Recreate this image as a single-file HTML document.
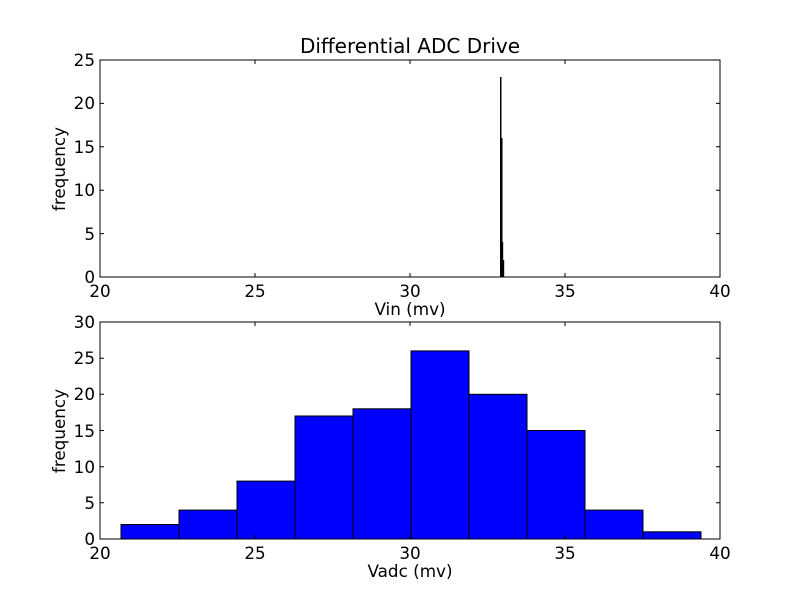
<!DOCTYPE html><html><head><style>body{margin:0;background:#fff}</style></head><body>
<svg width="800" height="600" xmlns="http://www.w3.org/2000/svg" font-family="DejaVu Sans, sans-serif">
<rect width="800" height="600" fill="#fff"/>
<text x="410" y="53" font-size="20" text-anchor="middle">Differential ADC Drive</text>
<g fill="#000">
<rect x="500" y="77" width="1.5" height="200"/>
<rect x="501" y="138" width="1.5" height="139"/>
<rect x="502" y="242" width="1.2" height="35"/>
<rect x="503" y="260" width="1.2" height="17"/>
</g>
<rect x="100" y="60" width="620" height="217" fill="none" stroke="#000"/>
<g stroke="#000">
<path d="M255 277v-4M410 277v-4M565 277v-4M255 60v4M410 60v4M565 60v4"/>
<path d="M100 233.6h4M100 190.2h4M100 146.8h4M100 103.4h4M720 233.6h-4M720 190.2h-4M720 146.8h-4M720 103.4h-4"/>
</g>
<g font-size="16.8" text-anchor="end">
<text x="95" y="283">0</text><text x="95" y="240">5</text><text x="95" y="196">10</text><text x="95" y="153">15</text><text x="95" y="109">20</text><text x="95" y="66">25</text>
</g>
<g font-size="16.8" text-anchor="middle">
<text x="100" y="297">20</text><text x="255" y="297">25</text><text x="410" y="297">30</text><text x="565" y="297">35</text><text x="720" y="297">40</text>
<text x="410" y="315">Vin (mv)</text>
</g>
<text transform="translate(65,169) rotate(-90)" font-size="16.8" text-anchor="middle">frequency</text>
<g fill="#0000ff" stroke="#000">
<rect x="121" y="524.5" width="58" height="14.5"/>
<rect x="179" y="510.1" width="58" height="28.9"/>
<rect x="237" y="481.1" width="58" height="57.9"/>
<rect x="295" y="416" width="58" height="123"/>
<rect x="353" y="408.8" width="58" height="130.2"/>
<rect x="411" y="350.9" width="58" height="188.1"/>
<rect x="469" y="394.3" width="58" height="144.7"/>
<rect x="527" y="430.5" width="58" height="108.5"/>
<rect x="585" y="510.1" width="58" height="28.9"/>
<rect x="643" y="531.8" width="58" height="7.2"/>
</g>
<rect x="100" y="322" width="620" height="217" fill="none" stroke="#000"/>
<g stroke="#000">
<path d="M255 539v-4M410 539v-4M565 539v-4M255 322v4M410 322v4M565 322v4"/>
<path d="M100 502.8h4M100 466.7h4M100 430.5h4M100 394.3h4M100 358.2h4M720 502.8h-4M720 466.7h-4M720 430.5h-4M720 394.3h-4M720 358.2h-4"/>
</g>
<g font-size="16.8" text-anchor="end">
<text x="95" y="545">0</text><text x="95" y="509">5</text><text x="95" y="473">10</text><text x="95" y="437">15</text><text x="95" y="400">20</text><text x="95" y="364">25</text><text x="95" y="328">30</text>
</g>
<g font-size="16.8" text-anchor="middle">
<text x="100" y="559">20</text><text x="255" y="559">25</text><text x="410" y="559">30</text><text x="565" y="559">35</text><text x="720" y="559">40</text>
<text x="410" y="577">Vadc (mv)</text>
</g>
<text transform="translate(65,431) rotate(-90)" font-size="16.8" text-anchor="middle">frequency</text>
</svg>
</body></html>
